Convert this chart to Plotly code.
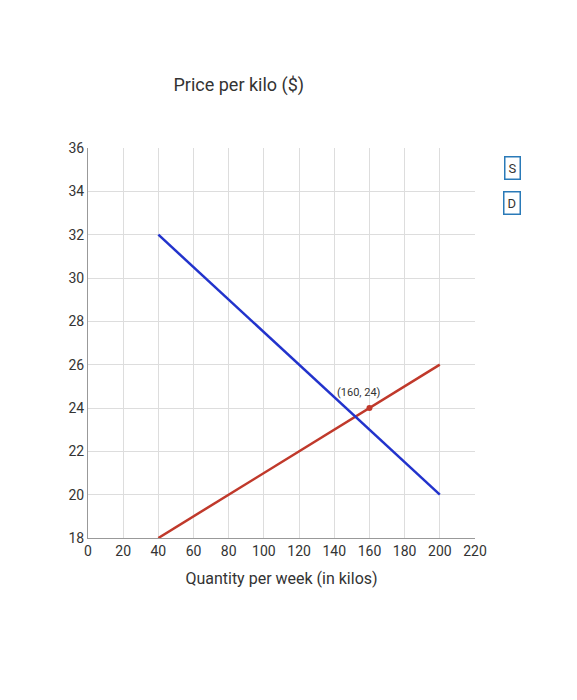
import plotly.graph_objects as go

supply_q = [40, 160, 200]
supply_p = [18, 24, 26]
demand_q = [40, 200]
demand_p = [32, 20]
x_ticks = list(range(0, 221, 20))
y_ticks = list(range(18, 37, 2))

fig = go.Figure()
fig.add_trace(go.Scatter(x=supply_q, y=supply_p, mode="lines", line=dict(color="#c0392b", width=2.5), name="S", showlegend=False))
fig.add_trace(go.Scatter(x=demand_q, y=demand_p, mode="lines", line=dict(color="#2233cc", width=2.5), name="D", showlegend=False))
fig.add_trace(go.Scatter(x=[supply_q[1]], y=[supply_p[1]], mode="markers", marker=dict(color="#c0392b", size=6), showlegend=False))
fig.add_annotation(x=160, y=24, text="(160, 24)", showarrow=False, xshift=-10, yshift=16, font=dict(size=11, color="#333"))
for i, lab in enumerate(["S", "D"]):
    fig.add_annotation(xref="paper", yref="paper", x=1.12, y=0.98 - i * 0.09, text=lab, showarrow=False,
                       bordercolor="#2a7ab8", borderwidth=1.5, borderpad=3, font=dict(size=13, color="#333"))
fig.update_layout(
    width=577, height=700, paper_bgcolor="white", plot_bgcolor="white",
    margin=dict(l=80, r=110, t=140, b=170),
    font=dict(family="Roboto", size=14, color="#333"),
    title=dict(text="Price per kilo ($)", x=0.4, y=0.9, font=dict(size=18)),
)
fig.update_xaxes(range=[0, 220], tickvals=x_ticks, showgrid=True, gridcolor="#ddd", showline=True, linecolor="#999",
                 title=dict(text="Quantity per week (in kilos)", font=dict(size=16)), zeroline=False)
fig.update_yaxes(range=[18, 36], tickvals=y_ticks, showgrid=True, gridcolor="#ddd", showline=True, linecolor="#999", zeroline=False)
fig.write_html("out.html")
